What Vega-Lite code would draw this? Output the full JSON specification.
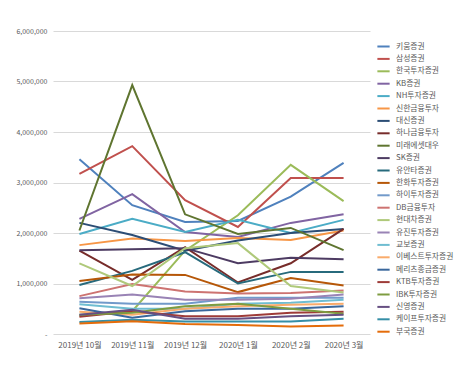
{
  "$schema": "https://vega.github.io/schema/vega-lite/v6.json",
  "width": 317,
  "height": 303,
  "autosize": {"type": "none"},
  "padding": {"left": 53, "top": 31, "right": 104, "bottom": 44},
  "background": "white",
  "config": {"view": {"stroke": null}, "font": "Noto Sans CJK KR"},
  "data": {"values": [
    {"s":"키움증권","m":"2019년 10월","v":3460000},{"s":"키움증권","m":"2019년 11월","v":2550000},{"s":"키움증권","m":"2019년 12월","v":2220000},{"s":"키움증권","m":"2020년 1월","v":2240000},{"s":"키움증권","m":"2020년 2월","v":2720000},{"s":"키움증권","m":"2020년 3월","v":3390000},
    {"s":"삼성증권","m":"2019년 10월","v":3170000},{"s":"삼성증권","m":"2019년 11월","v":3720000},{"s":"삼성증권","m":"2019년 12월","v":2650000},{"s":"삼성증권","m":"2020년 1월","v":2120000},{"s":"삼성증권","m":"2020년 2월","v":3090000},{"s":"삼성증권","m":"2020년 3월","v":3090000},
    {"s":"한국투자증권","m":"2019년 10월","v":360000},{"s":"한국투자증권","m":"2019년 11월","v":450000},{"s":"한국투자증권","m":"2019년 12월","v":1650000},{"s":"한국투자증권","m":"2020년 1월","v":2350000},{"s":"한국투자증권","m":"2020년 2월","v":3350000},{"s":"한국투자증권","m":"2020년 3월","v":2630000},
    {"s":"KB증권","m":"2019년 10월","v":2280000},{"s":"KB증권","m":"2019년 11월","v":2770000},{"s":"KB증권","m":"2019년 12월","v":2020000},{"s":"KB증권","m":"2020년 1월","v":1920000},{"s":"KB증권","m":"2020년 2월","v":2200000},{"s":"KB증권","m":"2020년 3월","v":2370000},
    {"s":"NH투자증권","m":"2019년 10월","v":1980000},{"s":"NH투자증권","m":"2019년 11월","v":2280000},{"s":"NH투자증권","m":"2019년 12월","v":2020000},{"s":"NH투자증권","m":"2020년 1월","v":2260000},{"s":"NH투자증권","m":"2020년 2월","v":2000000},{"s":"NH투자증권","m":"2020년 3월","v":2260000},
    {"s":"신한금융투자","m":"2019년 10월","v":1760000},{"s":"신한금융투자","m":"2019년 11월","v":1890000},{"s":"신한금융투자","m":"2019년 12월","v":1840000},{"s":"신한금융투자","m":"2020년 1월","v":1900000},{"s":"신한금융투자","m":"2020년 2월","v":1860000},{"s":"신한금융투자","m":"2020년 3월","v":2050000},
    {"s":"대신증권","m":"2019년 10월","v":2200000},{"s":"대신증권","m":"2019년 11월","v":1960000},{"s":"대신증권","m":"2019년 12월","v":1650000},{"s":"대신증권","m":"2020년 1월","v":1850000},{"s":"대신증권","m":"2020년 2월","v":2000000},{"s":"대신증권","m":"2020년 3월","v":2080000},
    {"s":"하나금융투자","m":"2019년 10월","v":1650000},{"s":"하나금융투자","m":"2019년 11월","v":1070000},{"s":"하나금융투자","m":"2019년 12월","v":1720000},{"s":"하나금융투자","m":"2020년 1월","v":1020000},{"s":"하나금융투자","m":"2020년 2월","v":1400000},{"s":"하나금융투자","m":"2020년 3월","v":2080000},
    {"s":"미래에셋대우","m":"2019년 10월","v":2050000},{"s":"미래에셋대우","m":"2019년 11월","v":4930000},{"s":"미래에셋대우","m":"2019년 12월","v":2370000},{"s":"미래에셋대우","m":"2020년 1월","v":1980000},{"s":"미래에셋대우","m":"2020년 2월","v":2100000},{"s":"미래에셋대우","m":"2020년 3월","v":1660000},
    {"s":"SK증권","m":"2019년 10월","v":1660000},{"s":"SK증권","m":"2019년 11월","v":1680000},{"s":"SK증권","m":"2019년 12월","v":1700000},{"s":"SK증권","m":"2020년 1월","v":1400000},{"s":"SK증권","m":"2020년 2월","v":1510000},{"s":"SK증권","m":"2020년 3월","v":1480000},
    {"s":"유안타증권","m":"2019년 10월","v":970000},{"s":"유안타증권","m":"2019년 11월","v":1250000},{"s":"유안타증권","m":"2019년 12월","v":1620000},{"s":"유안타증권","m":"2020년 1월","v":1000000},{"s":"유안타증권","m":"2020년 2월","v":1230000},{"s":"유안타증권","m":"2020년 3월","v":1230000},
    {"s":"한화투자증권","m":"2019년 10월","v":1050000},{"s":"한화투자증권","m":"2019년 11월","v":1180000},{"s":"한화투자증권","m":"2019년 12월","v":1170000},{"s":"한화투자증권","m":"2020년 1월","v":830000},{"s":"한화투자증권","m":"2020년 2월","v":1110000},{"s":"한화투자증권","m":"2020년 3월","v":960000},
    {"s":"하이투자증권","m":"2019년 10월","v":640000},{"s":"하이투자증권","m":"2019년 11월","v":600000},{"s":"하이투자증권","m":"2019년 12월","v":600000},{"s":"하이투자증권","m":"2020년 1월","v":720000},{"s":"하이투자증권","m":"2020년 2월","v":720000},{"s":"하이투자증권","m":"2020년 3월","v":720000},
    {"s":"DB금융투자","m":"2019년 10월","v":750000},{"s":"DB금융투자","m":"2019년 11월","v":990000},{"s":"DB금융투자","m":"2019년 12월","v":840000},{"s":"DB금융투자","m":"2020년 1월","v":800000},{"s":"DB금융투자","m":"2020년 2월","v":810000},{"s":"DB금융투자","m":"2020년 3월","v":860000},
    {"s":"현대차증권","m":"2019년 10월","v":1400000},{"s":"현대차증권","m":"2019년 11월","v":950000},{"s":"현대차증권","m":"2019년 12월","v":1700000},{"s":"현대차증권","m":"2020년 1월","v":1800000},{"s":"현대차증권","m":"2020년 2월","v":950000},{"s":"현대차증권","m":"2020년 3월","v":820000},
    {"s":"유진투자증권","m":"2019년 10월","v":710000},{"s":"유진투자증권","m":"2019년 11월","v":780000},{"s":"유진투자증권","m":"2019년 12월","v":680000},{"s":"유진투자증권","m":"2020년 1월","v":680000},{"s":"유진투자증권","m":"2020년 2월","v":700000},{"s":"유진투자증권","m":"2020년 3월","v":780000},
    {"s":"교보증권","m":"2019년 10월","v":590000},{"s":"교보증권","m":"2019년 11월","v":500000},{"s":"교보증권","m":"2019년 12월","v":500000},{"s":"교보증권","m":"2020년 1월","v":600000},{"s":"교보증권","m":"2020년 2월","v":620000},{"s":"교보증권","m":"2020년 3월","v":680000},
    {"s":"이베스트투자증권","m":"2019년 10월","v":440000},{"s":"이베스트투자증권","m":"2019년 11월","v":380000},{"s":"이베스트투자증권","m":"2019년 12월","v":500000},{"s":"이베스트투자증권","m":"2020년 1월","v":550000},{"s":"이베스트투자증권","m":"2020년 2월","v":580000},{"s":"이베스트투자증권","m":"2020년 3월","v":600000},
    {"s":"메리츠종금증권","m":"2019년 10월","v":510000},{"s":"메리츠종금증권","m":"2019년 11월","v":320000},{"s":"메리츠종금증권","m":"2019년 12월","v":450000},{"s":"메리츠종금증권","m":"2020년 1월","v":500000},{"s":"메리츠종금증권","m":"2020년 2월","v":500000},{"s":"메리츠종금증권","m":"2020년 3월","v":550000},
    {"s":"KTB투자증권","m":"2019년 10월","v":340000},{"s":"KTB투자증권","m":"2019년 11월","v":450000},{"s":"KTB투자증권","m":"2019년 12월","v":350000},{"s":"KTB투자증권","m":"2020년 1월","v":350000},{"s":"KTB투자증권","m":"2020년 2월","v":420000},{"s":"KTB투자증권","m":"2020년 3월","v":440000},
    {"s":"IBK투자증권","m":"2019년 10월","v":380000},{"s":"IBK투자증권","m":"2019년 11월","v":420000},{"s":"IBK투자증권","m":"2019년 12월","v":550000},{"s":"IBK투자증권","m":"2020년 1월","v":600000},{"s":"IBK투자증권","m":"2020년 2월","v":500000},{"s":"IBK투자증권","m":"2020년 3월","v":400000},
    {"s":"신영증권","m":"2019년 10월","v":380000},{"s":"신영증권","m":"2019년 11월","v":480000},{"s":"신영증권","m":"2019년 12월","v":300000},{"s":"신영증권","m":"2020년 1월","v":300000},{"s":"신영증권","m":"2020년 2월","v":350000},{"s":"신영증권","m":"2020년 3월","v":380000},
    {"s":"케이프투자증권","m":"2019년 10월","v":240000},{"s":"케이프투자증권","m":"2019년 11월","v":280000},{"s":"케이프투자증권","m":"2019년 12월","v":250000},{"s":"케이프투자증권","m":"2020년 1월","v":250000},{"s":"케이프투자증권","m":"2020년 2월","v":250000},{"s":"케이프투자증권","m":"2020년 3월","v":300000},
    {"s":"부국증권","m":"2019년 10월","v":210000},{"s":"부국증권","m":"2019년 11월","v":250000},{"s":"부국증권","m":"2019년 12월","v":200000},{"s":"부국증권","m":"2020년 1월","v":180000},{"s":"부국증권","m":"2020년 2월","v":150000},{"s":"부국증권","m":"2020년 3월","v":170000}
  ]},
  "mark": {"type": "line", "strokeWidth": 2},
  "encoding": {
    "x": {
      "field": "m", "type": "ordinal",
      "sort": ["2019년 10월","2019년 11월","2019년 12월","2020년 1월","2020년 2월","2020년 3월"],
      "scale": {"type": "point", "padding": 0.5},
      "axis": {"title": null, "labelAngle": 0, "ticks": false, "domain": false, "labelFontSize": 8, "labelColor": "#595959", "labelPadding": 7}
    },
    "y": {
      "field": "v", "type": "quantitative",
      "scale": {"domain": [0, 6000000]},
      "axis": {"title": null, "values": [0,1000000,2000000,3000000,4000000,5000000,6000000], "labelExpr": "datum.value == 0 ? '-' : format(datum.value, ',')", "domain": false, "ticks": false, "gridColor": "#d9d9d9", "labelFontSize": 7, "labelColor": "#595959", "labelPadding": 6}
    },
    "color": {
      "field": "s", "type": "nominal",
      "scale": {
        "domain": ["키움증권","삼성증권","한국투자증권","KB증권","NH투자증권","신한금융투자","대신증권","하나금융투자","미래에셋대우","SK증권","유안타증권","한화투자증권","하이투자증권","DB금융투자","현대차증권","유진투자증권","교보증권","이베스트투자증권","메리츠종금증권","KTB투자증권","IBK투자증권","신영증권","케이프투자증권","부국증권"],
        "range": ["#4F81BD","#C0504D","#9BBB59","#8064A2","#4BACC6","#F79646","#2C4D75","#772C2A","#5F7530","#4D3B62","#276A7C","#B65708","#729ACA","#CD7371","#AFC97A","#9983B5","#6FBDD1","#F9AB6B","#3A679C","#9E3B38","#7E9C40","#664F82","#358EA6","#E46C0A"]
      },
      "legend": {"title": null, "orient": "none", "legendX": 323, "legendY": 8, "symbolType": "stroke", "symbolStrokeWidth": 2, "symbolSize": 150, "labelFontSize": 7.8, "labelColor": "#595959", "rowPadding": 0.4, "labelOffset": 5}
    }
  }
}
